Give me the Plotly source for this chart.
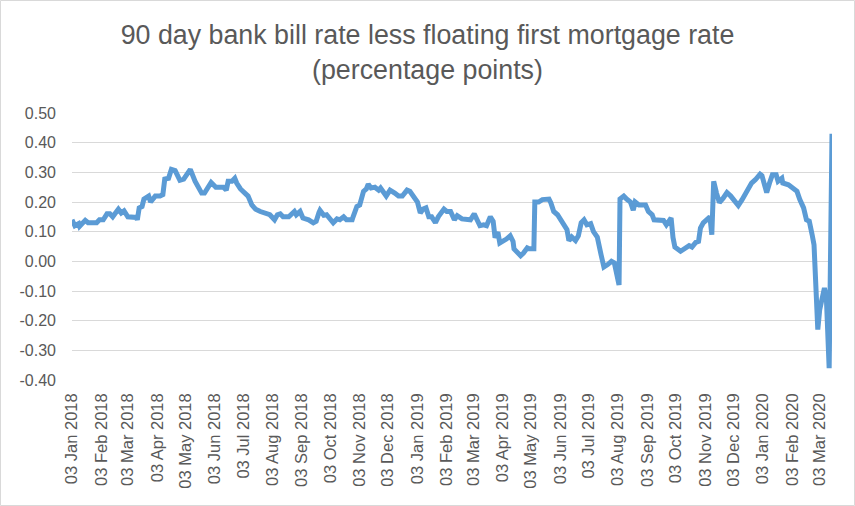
import plotly.graph_objects as go

# ---- data ----
dates = [
    "2018-01-03", "2018-01-06", "2018-01-10", "2018-01-11", "2018-01-17", "2018-01-20", "2018-01-29",
    "2018-02-01", "2018-02-05", "2018-02-09", "2018-02-12", "2018-02-15", "2018-02-21", "2018-02-24",
    "2018-02-27", "2018-03-03", "2018-03-12", "2018-03-13", "2018-03-15", "2018-03-18", "2018-03-20",
    "2018-03-25", "2018-03-27", "2018-04-01", "2018-04-06", "2018-04-09", "2018-04-11", "2018-04-15",
    "2018-04-18", "2018-04-22", "2018-04-27", "2018-05-01", "2018-05-08", "2018-05-13", "2018-05-20",
    "2018-05-23", "2018-05-30", "2018-06-04", "2018-06-12", "2018-06-15", "2018-06-17", "2018-06-21",
    "2018-06-24", "2018-06-26", "2018-06-30", "2018-07-05", "2018-07-08", "2018-07-12", "2018-07-16",
    "2018-07-21", "2018-07-26", "2018-07-31", "2018-08-05", "2018-08-08", "2018-08-11", "2018-08-14",
    "2018-08-20", "2018-08-26", "2018-08-28", "2018-09-01", "2018-09-04", "2018-09-10", "2018-09-15",
    "2018-09-18", "2018-09-21", "2018-09-22", "2018-09-26", "2018-09-29", "2018-10-06", "2018-10-10",
    "2018-10-13", "2018-10-17", "2018-10-20", "2018-10-26", "2018-10-27", "2018-10-31", "2018-11-03",
    "2018-11-07", "2018-11-10", "2018-11-12", "2018-11-15", "2018-11-19", "2018-11-23", "2018-11-25",
    "2018-12-01", "2018-12-05", "2018-12-10", "2018-12-14", "2018-12-18", "2018-12-23", "2018-12-26",
    "2018-12-31", "2019-01-03", "2019-01-06", "2019-01-09", "2019-01-12", "2019-01-15", "2019-01-18",
    "2019-01-22", "2019-01-25", "2019-01-31", "2019-02-03", "2019-02-07", "2019-02-11", "2019-02-14",
    "2019-02-19", "2019-02-24", "2019-02-28", "2019-03-04", "2019-03-07", "2019-03-10", "2019-03-14",
    "2019-03-17", "2019-03-21", "2019-03-24", "2019-03-26", "2019-03-29", "2019-03-31", "2019-04-04",
    "2019-04-07", "2019-04-11", "2019-04-14", "2019-04-15", "2019-04-20", "2019-04-22", "2019-04-25",
    "2019-04-29", "2019-05-01", "2019-05-06", "2019-05-07", "2019-05-11", "2019-05-15", "2019-05-18",
    "2019-05-22", "2019-05-24", "2019-05-27", "2019-05-31", "2019-06-05", "2019-06-10", "2019-06-12",
    "2019-06-15", "2019-06-19", "2019-06-22", "2019-06-25", "2019-06-28", "2019-07-01", "2019-07-05",
    "2019-07-08", "2019-07-12", "2019-07-16", "2019-07-19", "2019-07-23", "2019-07-27", "2019-07-30",
    "2019-08-02", "2019-08-04", "2019-08-05", "2019-08-09", "2019-08-12", "2019-08-16", "2019-08-19",
    "2019-08-21", "2019-08-25", "2019-09-01", "2019-09-04", "2019-09-08", "2019-09-10", "2019-09-17",
    "2019-09-20", "2019-09-23", "2019-09-25", "2019-09-28", "2019-09-30", "2019-10-02", "2019-10-08",
    "2019-10-13", "2019-10-17", "2019-10-20", "2019-10-24", "2019-10-27", "2019-10-29", "2019-11-01",
    "2019-11-05", "2019-11-08", "2019-11-10", "2019-11-12", "2019-11-15", "2019-11-18", "2019-11-22",
    "2019-11-26", "2019-11-30", "2019-12-05", "2019-12-08", "2019-12-12", "2019-12-17", "2019-12-22",
    "2019-12-26", "2019-12-31", "2020-01-02", "2020-01-05", "2020-01-07", "2020-01-10", "2020-01-13",
    "2020-01-17", "2020-01-19", "2020-01-23", "2020-01-24", "2020-01-30", "2020-02-03", "2020-02-08",
    "2020-02-11", "2020-02-15", "2020-02-18", "2020-02-21", "2020-02-24", "2020-02-26", "2020-03-01",
    "2020-03-03", "2020-03-08", "2020-03-10", "2020-03-13", "2020-03-15", "2020-03-16",
]

spread = [
    0.14, 0.12, 0.127, 0.118, 0.138, 0.13, 0.13,
    0.14, 0.14, 0.16, 0.16, 0.15, 0.176, 0.163,
    0.17, 0.15, 0.148, 0.14, 0.18, 0.185, 0.21,
    0.22, 0.20, 0.22, 0.22, 0.225, 0.277, 0.28,
    0.31, 0.306, 0.273, 0.277, 0.31, 0.27, 0.23,
    0.23, 0.266, 0.25, 0.25, 0.24, 0.27, 0.27,
    0.28, 0.264, 0.244, 0.23, 0.22, 0.19, 0.176,
    0.168, 0.163, 0.157, 0.14, 0.157, 0.16, 0.15,
    0.15, 0.168, 0.157, 0.168, 0.146, 0.14, 0.13,
    0.135, 0.165, 0.172, 0.155, 0.157, 0.13, 0.143,
    0.14, 0.15, 0.14, 0.14, 0.15, 0.185, 0.19,
    0.236, 0.244, 0.26, 0.247, 0.25, 0.24, 0.247,
    0.22, 0.24, 0.23, 0.22, 0.22, 0.24, 0.236,
    0.213, 0.20, 0.163, 0.176, 0.18, 0.15, 0.15,
    0.13, 0.15, 0.176, 0.168, 0.168, 0.14, 0.154,
    0.143, 0.14, 0.14, 0.16, 0.135, 0.12, 0.123,
    0.12, 0.15, 0.135, 0.08, 0.098, 0.062, 0.067,
    0.075, 0.086, 0.067, 0.042, 0.022, 0.019, 0.028,
    0.045, 0.042, 0.042, 0.20, 0.20, 0.208, 0.21,
    0.21, 0.197, 0.168, 0.157, 0.13, 0.107, 0.07,
    0.082, 0.07, 0.086, 0.13, 0.14, 0.123, 0.127,
    0.10, 0.082, 0.022, -0.019, -0.011, 0.0, -0.005,
    -0.045, -0.08, 0.21, 0.22, 0.21, 0.20, 0.172,
    0.20, 0.19, 0.19, 0.168, 0.157, 0.14, 0.14,
    0.138, 0.123, 0.135, 0.146, 0.08, 0.048, 0.034,
    0.045, 0.053, 0.048, 0.064, 0.067, 0.112, 0.13,
    0.14, 0.15, 0.09, 0.27, 0.23, 0.198, 0.213,
    0.232, 0.22, 0.197, 0.188, 0.208, 0.236, 0.264,
    0.275, 0.294, 0.289, 0.247, 0.232, 0.264, 0.292,
    0.292, 0.27, 0.28, 0.264, 0.258, 0.25, 0.236,
    0.208, 0.18, 0.14, 0.135, 0.09, 0.056, -0.23,
    -0.163, -0.09, -0.118, -0.36, 0.427, 0.43,
]

y_ticks = [0.50, 0.40, 0.30, 0.20, 0.10, 0.00, -0.10, -0.20, -0.30, -0.40]
y_tick_labels = [f"{v:.2f}" for v in y_ticks]

month_names = ["Jan", "Feb", "Mar", "Apr", "May", "Jun", "Jul", "Aug", "Sep", "Oct", "Nov", "Dec"]
x_ticks = []
x_tick_labels = []
for yr in (2018, 2019, 2020):
    for m in range(1, 13):
        if yr == 2020 and m > 3:
            break
        x_ticks.append(f"{yr}-{m:02d}-03")
        x_tick_labels.append(f"03 {month_names[m-1]} {yr}")

title_text = "90 day bank bill rate less floating first mortgage rate<br>(percentage points)"

# ---- figure ----
W, H = 855, 506
ML, MR, MT, MB = 72, 23, 113, 126
pw, ph = W - ML - MR, H - MT - MB

fig = go.Figure()
fig.add_trace(go.Scatter(
    x=dates, y=spread, mode="lines",
    line=dict(color="#5B9BD5", width=5),
    hoverinfo="x+y", showlegend=False,
))

grey = "#595959"
fig.update_layout(
    width=W, height=H,
    margin=dict(l=ML, r=MR, t=MT, b=MB),
    paper_bgcolor="white", plot_bgcolor="white",
    font=dict(family="Liberation Sans, Arial, sans-serif", color=grey, size=16),
    title=dict(text=title_text, x=0.5, xref="container", xanchor="center",
               y=1 - 44 / H, yref="container", yanchor="middle",
               font=dict(size=26.8, color=grey, family="Liberation Sans, Arial, sans-serif")),
    xaxis=dict(
        type="date", range=[dates[0], dates[-1]],
        tickvals=x_ticks, ticktext=x_tick_labels, tickangle=-90,
        showgrid=False, zeroline=False, showline=False, ticks="",
        tickfont=dict(size=16.5, color=grey), ticklabelstandoff=9,
    ),
    yaxis=dict(
        range=[-0.4, 0.5], tickvals=y_ticks, ticktext=y_tick_labels,
        showgrid=True, gridcolor="#D9D9D9", gridwidth=1,
        zeroline=False, showline=False, ticks="",
        tickfont=dict(size=16, color=grey), ticklabelstandoff=15,
    ),
)

# light outer chart border
fig.add_shape(type="rect", xref="paper", yref="paper",
              x0=(0.5 - ML) / pw, x1=(W - 0.5 - ML) / pw,
              y0=(H - MB - (H - 0.5)) / ph, y1=(H - MB - 0.5) / ph,
              line=dict(color="#D9D9D9", width=1), fillcolor="rgba(0,0,0,0)", layer="below")

fig.write_html("out.html")
